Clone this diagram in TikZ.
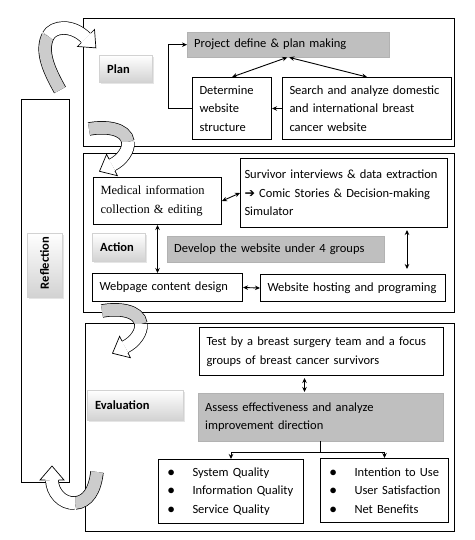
\documentclass[tikz,border=0pt]{standalone}
\usepackage{fontspec}
\setmainfont{Carlito}
\newfontfamily\seriffont{Liberation Serif}
\newfontfamily\dejavu{DejaVu Sans}
\usetikzlibrary{arrows.meta, positioning, calc, shadows}

\begin{document}
\begin{tikzpicture}[x=1pt, y=-1pt,
    font=\fontsize{12.5}{18.5}\selectfont,
    stage/.style={draw, line width=1.3pt, anchor=north west, inner sep=0pt},
    box/.style={draw, line width=1pt, anchor=north west, align=left, inner xsep=7pt, inner ysep=0pt},
    shadebox/.style={box, draw=gray!60, line width=0.4pt, fill=gray!50},
    tag/.style={anchor=north west, align=left, inner xsep=8pt, inner ysep=0pt,
        font=\fontsize{12.5}{14}\selectfont\bfseries, draw=gray!35, line width=0.4pt,
        top color=white, bottom color=gray!35,
        drop shadow={shadow xshift=1.5pt, shadow yshift=-1.5pt, fill=gray!40}},
    link/.style={line width=0.9pt, {Stealth[length=5pt, width=4.5pt]}-{Stealth[length=5pt, width=4.5pt]}},
    flow/.style={line width=0.9pt, -{Stealth[length=5pt, width=4.5pt]}},
    bandgray/.style={line width=0.7pt, double=gray!40, double distance=12pt},
    bandwhite/.style={line width=0.7pt, double=white, double distance=12pt},
    bandhead/.style={line width=0.7pt, line join=miter}
]
\useasboundingbox (0,0) rectangle (474,540);

% Plan stage
\node[stage, minimum width=371, minimum height=128] (planstage) at (83,18) {};
\node[tag, minimum height=27, text width=37] (plan) at (99,55) {Plan};
\node[shadebox, minimum height=25, text width=188] (project) at (187,32) {Project define \& plan making};
\node[box, minimum height=62, text width=65] (determine) at (192,77) {Determine\\website\\structure};
\node[box, minimum height=62, text width=155] (search) at (282,77) {Search and analyze domestic\\and international breast\\cancer website};

\draw[link] ([xshift=-1]project.south) -- (determine.north);
\draw[link] ([xshift=1]project.south) -- (search.north);
\draw[flow] (search.west) -- (determine.east);
\draw[flow] (determine.west) -- ++(-24,0) |- (project.west);

% Action stage
\node[stage, minimum width=371, minimum height=159] (actionstage) at (83,153) {};
\node[box, minimum height=47, text width=114, font=\fontsize{12.5}{18.5}\seriffont] (medical) at (93,177) {Medical information\\collection \& editing};
\node[box, minimum height=69, text width=199, inner xsep=4pt] (survivor) at (240,158) {Survivor interviews \& data extraction\\{\dejavu\bfseries ➔} Comic Stories \& Decision-making\\Simulator};
\node[tag, minimum height=28, text width=37] (action) at (92,233) {Action};
\node[shadebox, minimum height=26, text width=203] (develop) at (167,236) {Develop the website under 4 groups};
\node[box, minimum height=28, text width=136] (webpage) at (92,273) {Webpage content design};
\node[box, minimum height=27, text width=171] (hosting) at (260,274) {Website hosting and programing};

\draw[link] (medical.east) -- (survivor.west);
\draw[link] (medical.south) -- (medical.south |- webpage.north);
\draw[link, shorten <=2pt, shorten >=5pt] ([xshift=63]survivor.south) -- ([xshift=63]survivor.south |- hosting.north);
\draw[link] (webpage.east) -- (hosting.west);

% Evaluation stage
\node[stage, minimum width=369, minimum height=208] (evalstage) at (85,323) {};
\node[box, minimum height=48, text width=230] (test) at (199,327) {Test by a breast surgery team and a focus\\groups of breast cancer survivors};
\node[shadebox, minimum height=48, text width=231] (assess) at (198,393) {Assess effectiveness and analyze\\improvement direction};
\node[tag, minimum height=30, text width=80] (evaluation) at (87,390) {Evaluation};
\node[box, minimum height=64, text width=131] (quality) at (158,459) {%
    \makebox[27pt][l]{\hspace{2pt}{\Large$\bullet$}}System Quality\\
    \makebox[27pt][l]{\hspace{2pt}{\Large$\bullet$}}Information Quality\\
    \makebox[27pt][l]{\hspace{2pt}{\Large$\bullet$}}Service Quality};
\node[box, minimum height=64, text width=114] (benefit) at (320,458) {%
    \makebox[27pt][l]{\hspace{2pt}{\Large$\bullet$}}Intention to Use\\
    \makebox[27pt][l]{\hspace{2pt}{\Large$\bullet$}}User Satisfaction\\
    \makebox[27pt][l]{\hspace{2pt}{\Large$\bullet$}}Net Benefits};

\draw[link, shorten <=2pt, shorten >=1pt] ([xshift=-17]test.south) -- ([xshift=-17]test.south |- assess.north);
\draw[line width=0.9pt] (assess.south) -- ++(0,11) coordinate (fork);
\draw[flow] (fork) -| (quality.north);
\draw[flow] (fork) -| (benefit.north);

% Reflection
\node[box, minimum width=48, minimum height=383, inner sep=0pt] (reflbox) at (21,99) {};
\node[tag, anchor=center, rotate=90, minimum height=35, text width=48, align=center] (reflection) at (44.5,265) {Reflection};

% Curved block arrows between the stages
\draw[bandgray] (60,90) .. controls (50,72) and (40,52) .. (48,36);
\draw[bandwhite] (48,36) .. controls (53,26) and (72,24) .. (86,38);
\fill[white] (77.5,46.5) -- (95.9,47.9) -- (94.5,29.5) -- cycle;
\draw[bandhead] (81.3,42.7) -- (77.5,46.5) -- (95.9,47.9) -- (94.5,29.5) -- (90.7,33.3);

\draw[bandgray] (89,129) .. controls (105,126) and (126,128) .. (128,142);
\draw[bandwhite] (128,142) .. controls (129,150) and (122,160) .. (112,165);
\fill[white] (117.4,175.7) -- (99.5,171.3) -- (106.6,154.3) -- cycle;
\draw[bandhead] (115,171) -- (117.4,175.7) -- (99.5,171.3) -- (106.6,154.3) -- (109,159);

\draw[bandgray] (102,311) .. controls (118,308) and (139,310) .. (141,324);
\draw[bandwhite] (141,324) .. controls (142,332) and (135,342) .. (125,347);
\fill[white] (130.4,357.7) -- (112.5,353.3) -- (119.6,336.3) -- cycle;
\draw[bandhead] (128,353) -- (130.4,357.7) -- (112.5,353.3) -- (119.6,336.3) -- (122,341);

\draw[bandgray] (97,472) .. controls (95,490) and (88,502) .. (75,503);
\draw[bandwhite] (75,503) .. controls (62,504) and (52,492) .. (52,480);
\fill[white] (64,480) -- (52,466) -- (40,480) -- cycle;
\draw[bandhead] (58.7,480) -- (64,480) -- (52,466) -- (40,480) -- (45.3,480);
\end{tikzpicture}
\end{document}
